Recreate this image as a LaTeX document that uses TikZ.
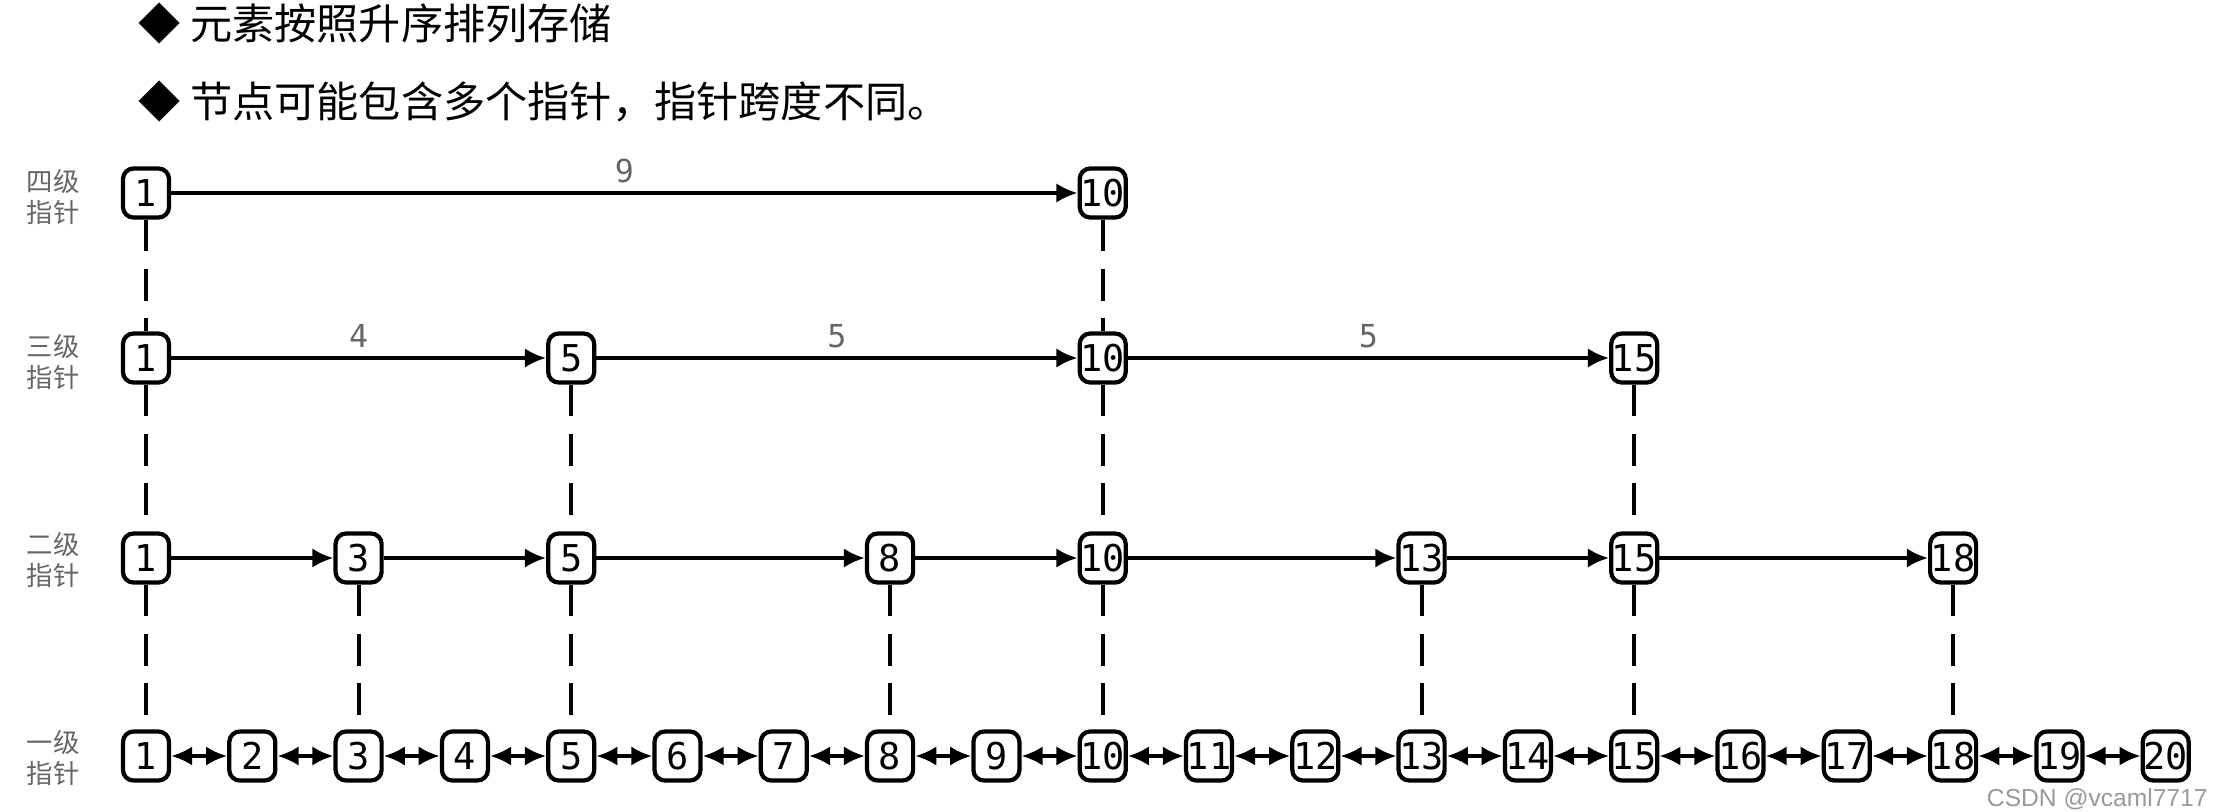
\documentclass[tikz,border=0pt]{standalone}
\usepackage{fontspec}
\setmainfont{Noto Sans CJK SC}
\newfontfamily\monofont{DejaVu Sans Mono}
\newfontfamily\latinfont{Liberation Sans}
\usetikzlibrary{arrows.meta}
\begin{document}
\begin{tikzpicture}[x=0.01cm,y=-0.01cm,
  nd/.style={draw,line width=1.2pt,rounded corners=3pt,minimum width=0.46cm,minimum height=0.49cm,inner sep=0pt,font=\monofont\fontsize{10.5}{10.5}\selectfont,fill=white},
  lvl/.style={font=\fontsize{7.5}{9}\selectfont,text=black!60,align=center},
  ar/.style={line width=1.1pt,-{Latex[length=6pt,width=5.5pt]}},
  dar/.style={line width=1.1pt,{Latex[length=6pt,width=5.5pt]}-{Latex[length=6pt,width=5.5pt]}},
  vl/.style={line width=1.1pt,dash pattern=on 9pt off 5pt},
  el/.style={font=\monofont\fontsize{9}{9}\selectfont,text=black!60}]
\useasboundingbox (0,0) rectangle (2236,812);
% header
\node[anchor=west,font=\fontsize{12}{12}\selectfont] (h1) at (126,23) {◆\ 元素按照升序排列存储};
\node[anchor=west,font=\fontsize{12}{12}\selectfont] (h2) at (126,101) {◆\ 节点可能包含多个指针，指针跨度不同。};
% level labels
\node[lvl] (L4) at (53,197) {四级\\指针};
\node[lvl] (L3) at (53,362) {三级\\指针};
\node[lvl] (L2) at (53,560) {二级\\指针};
\node[lvl] (L1) at (53,758) {一级\\指针};
% level 1
\foreach \k in {1,...,20}{\node[nd] (a\k) at ({146+(\k-1)*106.3},756) {\k};}
\foreach \k [evaluate=\k as \j using int(\k+1)] in {1,...,19}{\draw[dar] (a\k) -- (a\j);}
% level 2
\foreach \k in {1,3,5,8,10,13,15,18}{\node[nd] (b\k) at ({146+(\k-1)*106.3},558) {\k};}
\draw[ar] (b1)--(b3); \draw[ar] (b3)--(b5); \draw[ar] (b5)--(b8); \draw[ar] (b8)--(b10);
\draw[ar] (b10)--(b13); \draw[ar] (b13)--(b15); \draw[ar] (b15)--(b18);
% level 3
\foreach \k in {1,5,10,15}{\node[nd] (c\k) at ({146+(\k-1)*106.3},358) {\k};}
\draw[ar] (c1)--node[el,above=-1pt]{4}(c5);
\draw[ar] (c5)--node[el,above=-1pt]{5}(c10);
\draw[ar] (c10)--node[el,above=-1pt]{5}(c15);
% level 4
\foreach \k in {1,10}{\node[nd] (d\k) at ({146+(\k-1)*106.3},193) {\k};}
\draw[ar] (d1)--node[el,above=-1pt]{9}(d10);
% verticals
\foreach \k in {1,3,5,8,10,13,15,18}{\draw[vl] (b\k) -- (a\k);}
\foreach \k in {1,5,10,15}{\draw[vl] (c\k) -- (b\k);}
\foreach \k in {1,10}{\draw[vl] (d\k) -- (c\k);}
\node[anchor=east,font=\latinfont\fontsize{7}{7}\selectfont,text=black!40] (wm) at (2220,799) {CSDN @vcaml7717};
\end{tikzpicture}
\end{document}
